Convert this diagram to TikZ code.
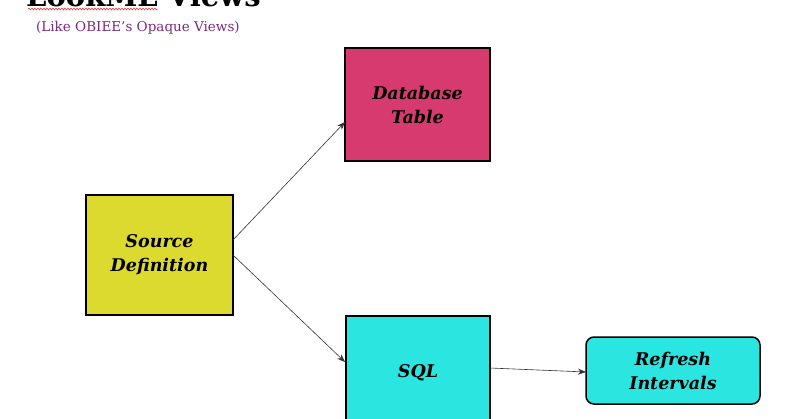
\documentclass[tikz,border=0pt]{standalone}
\usepackage{fontspec}
\setmainfont{DejaVu Serif}
\usetikzlibrary{arrows.meta,decorations.pathmorphing}
\definecolor{mag}{HTML}{D63A6F}
\definecolor{yel}{HTML}{DCDA2F}
\definecolor{cya}{HTML}{2BE5E0}
\definecolor{purp}{HTML}{7A2A7E}
\begin{document}
\begin{tikzpicture}[x=1pt,y=-1pt,
  btext/.style={align=center,font=\fontsize{17.5}{24}\selectfont\bfseries\itshape,inner sep=0pt},
  box/.style={draw=black,line width=1.5pt,btext},
  conn/.style={-{Stealth[length=8pt,width=6pt]},line width=0.6pt,draw=black!80}]
\useasboundingbox (0,0) rectangle (795,418);
\clip (0,0) rectangle (795,418);
\fill[white] (0,0) rectangle (795,418);
\node[anchor=base west,inner sep=0pt,font=\fontsize{29}{34}\selectfont\bfseries] (title) at (26,6) {LookML Views};
\draw[red,decorate,decoration={snake,amplitude=1pt,segment length=3pt}] (28,9) -- (158,9);
\node[anchor=west,inner sep=0pt,text=purp,font=\fontsize{13.5}{16}\selectfont] (sub) at (36,28) {(Like OBIEE’s Opaque Views)};
\node[box,fill=mag,minimum width=145pt,minimum height=113pt] (db) at (417.5,104.5) {};
\node[btext] at (417.5,105) {Database\\Table};
\node[box,fill=yel,minimum width=147pt,minimum height=120pt] (src) at (159.5,255) {Source\\Definition};
\node[box,fill=cya,minimum width=144pt,minimum height=120pt] (sql) at (418,376) {};
\node[btext] at (418,373) {SQL};
\node[box,fill=cya,rounded corners=8pt,minimum width=174pt,minimum height=67pt] (ref) at (673,370.5) {Refresh\\Intervals};
\coordinate (s1) at (233,240);
\coordinate (s2) at (233,255);
\coordinate (d1) at (345,122);
\coordinate (q1) at (345,362);
\coordinate (q2) at (490,368);
\coordinate (r1) at (586,372);
\draw[conn] (s1) -- (d1);
\draw[conn] (s2) -- (q1);
\draw[conn] (q2) -- (r1);
\end{tikzpicture}
\end{document}
